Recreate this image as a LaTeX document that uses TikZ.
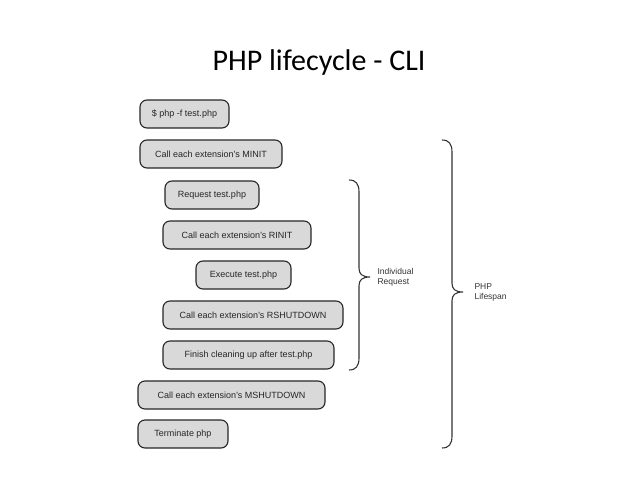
\documentclass[tikz,border=0pt]{standalone}
\usepackage{fontspec}
\setmainfont{Liberation Sans}
\newfontfamily\titlefont{Carlito}
\begin{document}
\begin{tikzpicture}[x=1pt,y=-1pt,
  stepbox/.style={draw=black!85,line width=1.1pt,fill=black!15,rounded corners=7pt,
    inner sep=0pt,font=\fontsize{9}{10}\selectfont,text=black!85},
  bracepath/.style={draw=black!80,line width=1.1pt},
  lbl/.style={font=\fontsize{8.5}{10}\selectfont,text=black!80,align=left,anchor=west}]
\useasboundingbox (0,0) rectangle (638,479);
\node[font=\titlefont\fontsize{30}{34}\selectfont] (title) at (319,63) {PHP lifecycle - CLI};
\newcommand\bx[6]{\node[stepbox,minimum width=#3-#2,minimum height=28pt] (#1) at ({(#2+#3)/2},#4) {#6};}
\bx{b1}{140}{229}{114}{}{\$ php -f test.php}
\bx{b2}{140}{282}{154}{}{Call each extension's MINIT}
\bx{b3}{165}{259}{195}{}{Request test.php}
\bx{b4}{163}{311}{235}{}{Call each extension's RINIT}
\bx{b5}{196}{291}{275}{}{Execute test.php}
\bx{b6}{163}{343}{315}{}{Call each extension's RSHUTDOWN}
\bx{b7}{163}{334}{355}{}{Finish cleaning up after test.php}
\bx{b8}{138}{325}{395}{}{Call each extension's MSHUTDOWN}
\bx{b9}{138}{228}{434}{}{Terminate php}
\path[bracepath] (349,180) .. controls (356,180) and (359,184) .. (359,192) -- (359,268)
  .. controls (359,274) and (362,277) .. (370,277) coordinate (t1)
  .. controls (362,277) and (359,280) .. (359,286) -- (359,358)
  .. controls (359,366) and (356,370) .. (349,370);
\node[lbl] (l1) at (374,277) {Individual\\Request};
\path[bracepath] (442,140) .. controls (449,140) and (452,144) .. (452,152) -- (452,283)
  .. controls (452,289) and (455,292) .. (463,292) coordinate (t2)
  .. controls (455,292) and (452,295) .. (452,301) -- (452,436)
  .. controls (452,444) and (449,448) .. (442,448);
\node[lbl] (l2) at (471,292) {PHP\\Lifespan};
\end{tikzpicture}
\end{document}
